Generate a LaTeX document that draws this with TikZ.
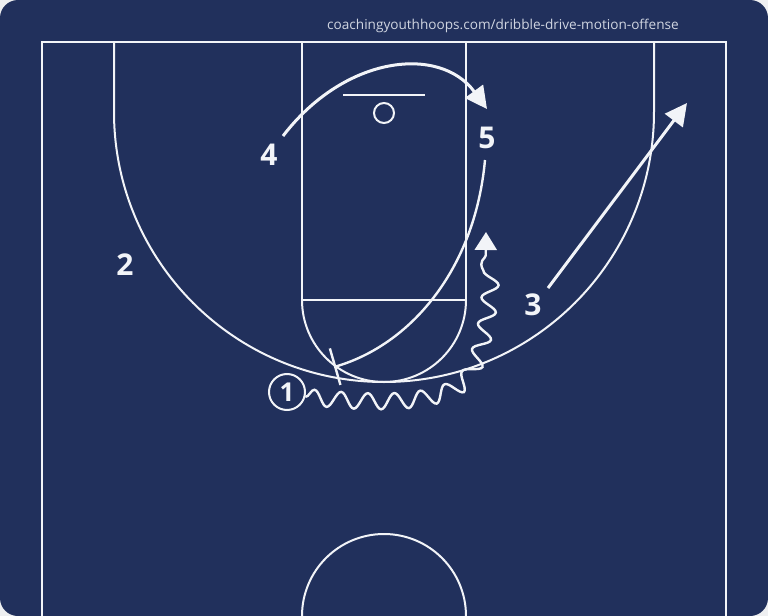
\documentclass[tikz,border=0pt]{standalone}
\usepackage{fontspec}
\setmainfont{Open Sans}
\usetikzlibrary{arrows.meta}
\usetikzlibrary{positioning}
\usetikzlibrary{decorations.pathmorphing}
\definecolor{court}{RGB}{33,48,92}
\definecolor{chalk}{RGB}{242,244,248}
\definecolor{urlgray}{RGB}{208,213,225}
\definecolor{paper}{RGB}{238,239,241}

\tikzset{
    player/.style = {text = chalk, inner sep = 0pt, font = \bfseries\fontsize{15}{15}\selectfont},
    cut/.style = {draw = chalk, line width = 1.5pt, -{Triangle[length = 11pt, width = 11pt]}},
    screen/.style = {draw = chalk, line width = 1.2pt, -{Bar[width = 19pt, line width = 1.2pt]}},
    dribble/.style = {draw = chalk, line width = 1.2pt, -{Triangle[length = 9pt, width = 11pt]},
        decorate, decoration = {snake, amplitude = 4pt, segment length = 13.5pt, post length = 9pt}},
}

\begin{document}
\begin{tikzpicture}[x = 0.5pt, y = -0.5pt, chalk, line width = 1pt]
    \useasboundingbox (0,0) rectangle (768,616);
    \fill[paper] (0,0) rectangle (768,616);
    \fill[court, rounded corners = 9pt] (0,0) rectangle (768,616);

    %\draw[help lines, opacity = 0.1] (0,0) grid[step = 50] (768,616);

    \begin{scope}
        \clip (0,0) rectangle (768,616);

        % court
        \draw (42,616) -- (42,42) -- (726,42) -- (726,616);
        \draw (302,300) -- (302,42);
        \draw (466,300) -- (466,42);
        \draw (302,300) -- (466,300);
        \draw (302,300) arc[start angle = 180, end angle = 0, radius = 82];
        \draw (114,42) -- (114,112) arc[start angle = 180, end angle = 0, radius = 270] -- (654,42);
        \draw (343,95) -- (425,95);
        \node (rim) at (384,113) [circle, draw, minimum size = 10pt, inner sep = 0pt] {};
        \draw (384,616) circle[radius = 82];
    \end{scope}

    \node (url) at (503,26) [text = urlgray, font = \fontsize{6.8}{7}\selectfont] {coachingyouthhoops.com/dribble-drive-motion-offense};

    % players
    \node (P1) at (287,392) [circle, draw, line width = 1pt, minimum size = 18pt, inner sep = 0pt,
        text = chalk, font = \bfseries\fontsize{13}{13}\selectfont] {1};
    \node (P2) at (125,265) [player] {2};
    \node (P3) at (533,305) [player] {3};
    \node (P4) at (269,155) [player] {4};
    \node (P5) at (487,138) [player] {5};

    \coordinate (s4) at (283,136);
    \coordinate (e4) at (487,109);
    \coordinate (s3) at (548,288);
    \coordinate (e3) at (687,103);
    \coordinate (s5) at (485,160);
    \coordinate (e5) at (334,367);
    \coordinate (e1) at (486,232);

    \draw[cut] (s4) .. controls (345,55) and (440,45) .. (e4);
    \draw[cut] (s3) -- (e3);
    \draw[screen] (s5) .. controls (475,270) and (410,345) .. (e5);
    \draw[dribble] (P1.-15) .. controls (380,404) and (430,402) .. (455,383)
        .. controls (478,365) and (486,300) .. (e1);

\end{tikzpicture}
\end{document}
